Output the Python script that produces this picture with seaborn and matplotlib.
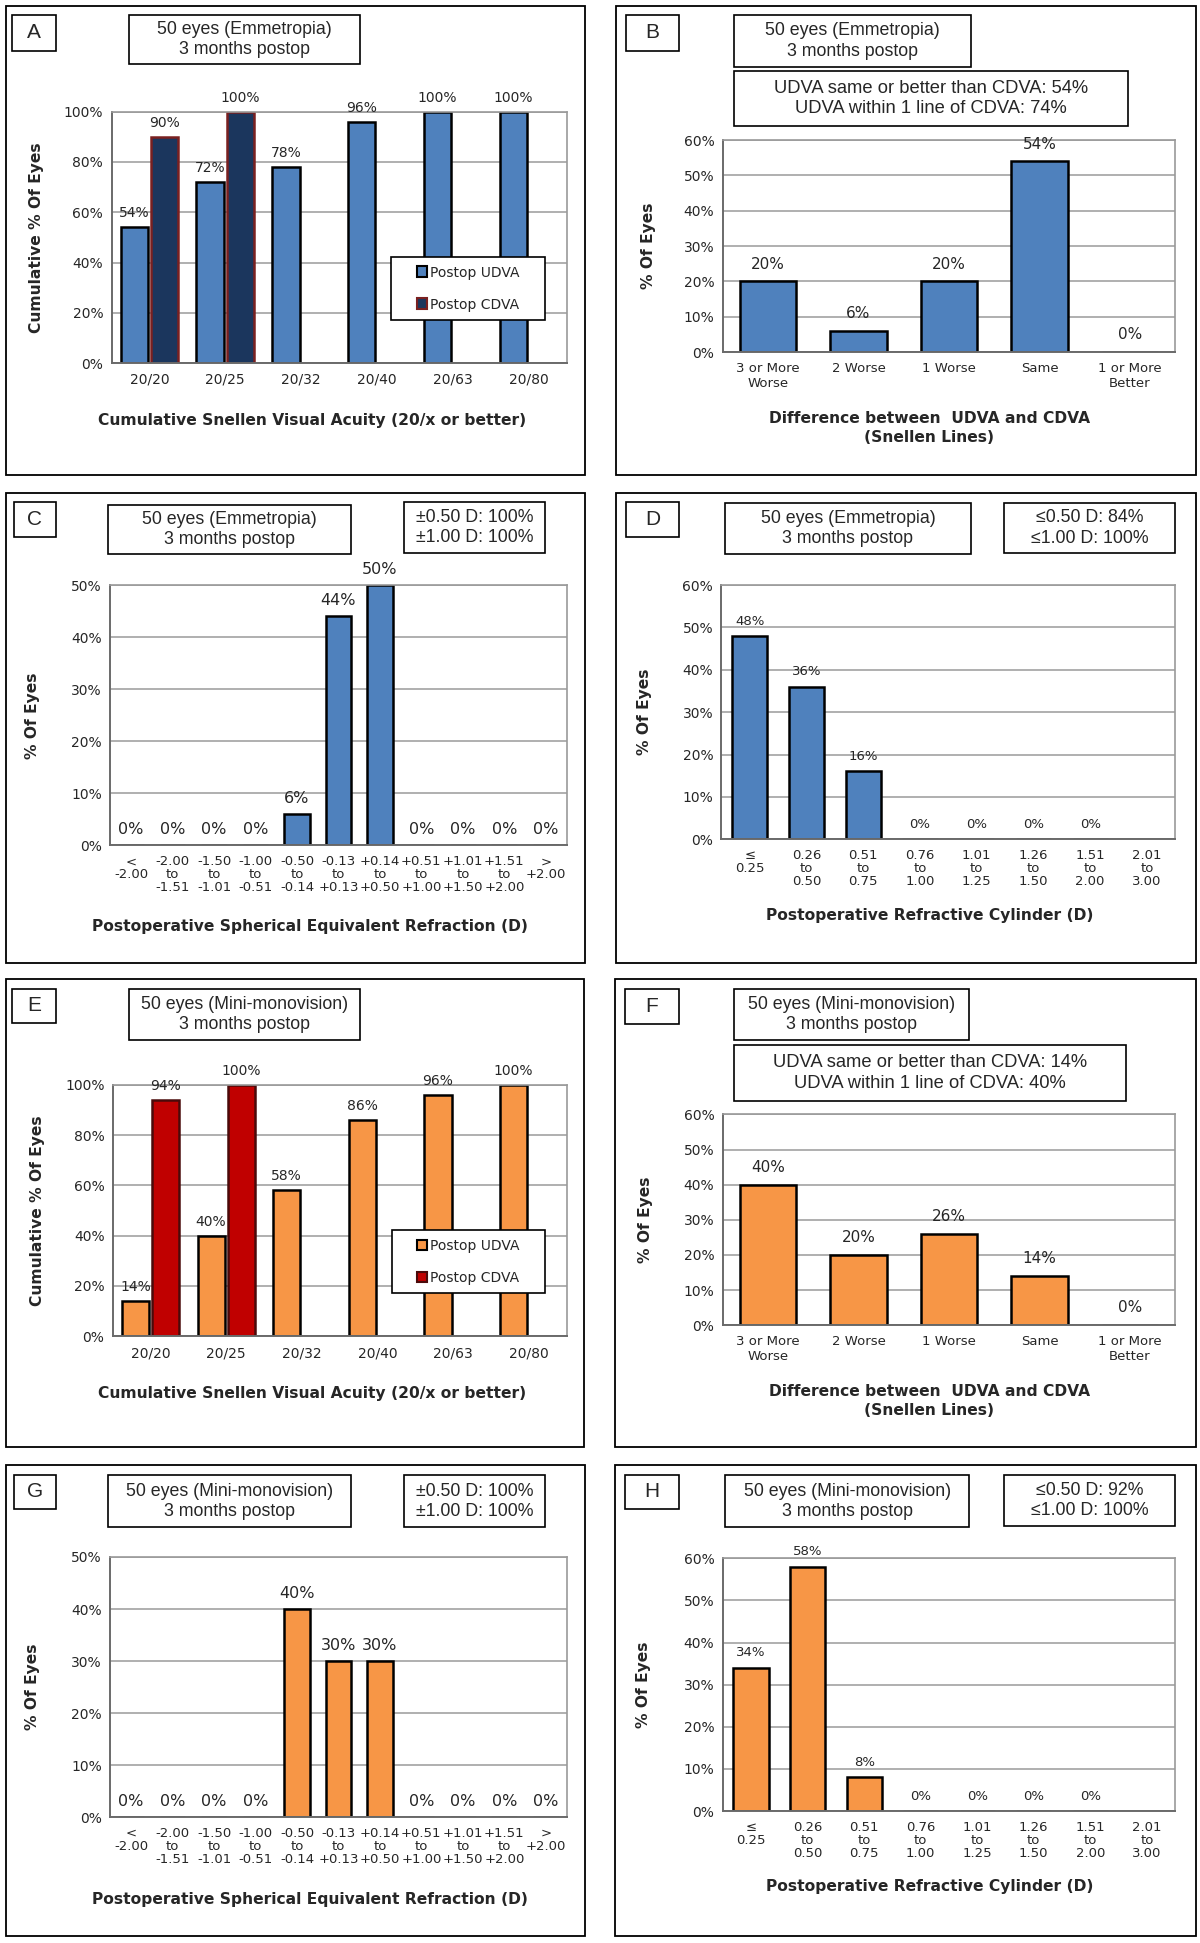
import numpy as np
import pandas as pd
import seaborn as sns
from matplotlib import pyplot as plt
from matplotlib.patches import Patch, Rectangle

# ---- data ----
acuity_labels = ['20/20', '20/25', '20/32', '20/40', '20/63', '20/80']
emm_udva = [54, 72, 78, 96, 100, 100]
emm_cdva = [90, 100]
mono_udva = [14, 40, 58, 86, 96, 100]
mono_cdva = [94, 100]

diff_labels = ['3 or More\nWorse', '2 Worse', '1 Worse', 'Same', '1 or More\nBetter']
emm_diff = [20, 6, 20, 54, 0]
mono_diff = [40, 20, 26, 14, 0]

se_labels = ['<\n-2.00', '-2.00\nto\n-1.51', '-1.50\nto\n-1.01', '-1.00\nto\n-0.51',
             '-0.50\nto\n-0.14', '-0.13\nto\n+0.13', '+0.14\nto\n+0.50', '+0.51\nto\n+1.00',
             '+1.01\nto\n+1.50', '+1.51\nto\n+2.00', '>\n+2.00']
emm_se = [0, 0, 0, 0, 6, 44, 50, 0, 0, 0, 0]
mono_se = [0, 0, 0, 0, 40, 30, 30, 0, 0, 0, 0]

cyl_labels = ['≤\n0.25', '0.26\nto\n0.50', '0.51\nto\n0.75', '0.76\nto\n1.00',
              '1.01\nto\n1.25', '1.26\nto\n1.50', '1.51\nto\n2.00', '2.01\nto\n3.00']
emm_cyl = [48, 36, 16, 0, 0, 0, 0]   # last class has no value
mono_cyl = [34, 58, 8, 0, 0, 0, 0]

emm_title = '50 eyes (Emmetropia)\n3 months postop'
mono_title = '50 eyes (Mini-monovision)\n3 months postop'
emm_diff_note = 'UDVA same or better than CDVA: 54%\nUDVA within 1 line of CDVA: 74%'
mono_diff_note = 'UDVA same or better than CDVA: 14%\nUDVA within 1 line of CDVA: 40%'
se_note = '±0.50 D: 100%\n±1.00 D: 100%'
emm_cyl_note = '≤0.50 D: 84%\n≤1.00 D: 100%'
mono_cyl_note = '≤0.50 D: 92%\n≤1.00 D: 100%'

BLUE = '#4F81BD'
NAVY = '#1B365D'
ORANGE = '#F79646'
RED = '#C00000'

sns.set_style('white')
plt.rcParams['font.family'] = ['DejaVu Sans']
BOX_FONT = ['Liberation Sans', 'DejaVu Sans']

fig = plt.figure(figsize=(12, 19.43), dpi=100)
REF_W, REF_H = 968.0, 1567.4  # reference measured at this scale


def ref_rect(x0, y0, x1, y1):
    return [x0 / REF_W, 1 - y1 / REF_H, (x1 - x0) / REF_W, (y1 - y0) / REF_H]


def frame(x0, y0, x1, y1, lw=1.3):
    l, b, w, h = ref_rect(x0, y0, x1, y1)
    fig.add_artist(Rectangle((l, b), w, h, transform=fig.transFigure,
                             fill=False, ec='black', lw=lw))


def text_box(x0, y0, x1, y1, text, size=12.8):
    frame(x0, y0, x1, y1, lw=1.2)
    l, b, w, h = ref_rect(x0, y0, x1, y1)
    fig.text(l + w / 2, b + h / 2, text, ha='center', va='center', fontsize=size,
             family=BOX_FONT, linespacing=1.25)


def style_axes(ax, ymax, ystep, ytick_size, xtick_size, n, xspacing=1.0):
    ax.set_ylim(0, ymax)
    ax.set_yticks(np.arange(0, ymax + 1, ystep))
    ax.set_yticklabels([f'{v}%' for v in range(0, ymax + 1, ystep)], fontsize=ytick_size)
    ax.set_xticks(np.arange(-0.5, n, 1.0), minor=True)
    ax.tick_params(axis='x', which='major', length=0, pad=7, labelsize=xtick_size)
    ax.tick_params(axis='x', which='minor', length=5, color='#707070', width=1.2, direction='out')
    ax.tick_params(axis='y', length=4, color='#707070', width=1.2, direction='out', pad=2)
    ax.set_axisbelow(True)
    ax.yaxis.grid(True, color='#9a9a9a', lw=1.1)
    ax.xaxis.grid(False)
    for side in ['top', 'right']:
        ax.spines[side].set_color('#9a9a9a')
        ax.spines[side].set_linewidth(1.2)
    for side in ['left', 'bottom']:
        ax.spines[side].set_color('#6a6a6a')
        ax.spines[side].set_linewidth(1.4)
    for lab in ax.get_xticklabels():
        lab.set_linespacing(xspacing)


def set_labels(ax, xlabel, ylabel, xcen, xpos, ypos, size=11.2):
    ax.set_xlabel(xlabel, fontsize=size, fontweight='bold', linespacing=1.35)
    ax.set_ylabel(ylabel, fontsize=size, fontweight='bold')
    ax.xaxis.label.set_va('center')
    ax.yaxis.label.set_va('center')
    ax.xaxis.set_label_coords(xcen, xpos)
    ax.yaxis.set_label_coords(ypos, 0.5)


def acuity_panel(rect, udva, cdva, udva_color, cdva_color, cdva_edge):
    ax = fig.add_axes(ref_rect(*rect))
    df = pd.DataFrame({
        'acuity': acuity_labels + acuity_labels[:len(cdva)],
        'pct': udva + cdva,
        'measure': ['Postop UDVA'] * len(udva) + ['Postop CDVA'] * len(cdva),
    })
    sns.barplot(data=df, x='acuity', y='pct', hue='measure', order=acuity_labels,
                hue_order=['Postop UDVA', 'Postop CDVA'], palette=[udva_color, cdva_color],
                width=0.8, gap=0.1, errorbar=None, saturation=1, edgecolor='black',
                linewidth=1.8, legend=False, ax=ax)
    for bar in ax.containers[1]:
        bar.set_edgecolor(cdva_edge)
    for cont in ax.containers:
        ax.bar_label(cont, fmt='{:.0f}%', padding=5, fontsize=10, annotation_clip=False)
    style_axes(ax, 100, 20, 10, 10, len(acuity_labels))
    set_labels(ax, 'Cumulative Snellen Visual Acuity (20/x or better)',
               'Cumulative % Of Eyes', 0.44, -0.227, -0.165)
    # legend in a white box over the bars
    ax.add_patch(Rectangle((0.615, 0.171), 0.337, 0.251, transform=ax.transAxes,
                           fc='white', ec='black', lw=1.2, zorder=5))
    handles = [Patch(fc=udva_color, ec='black', lw=1.5), Patch(fc=cdva_color, ec=cdva_edge, lw=1.5)]
    leg = ax.legend(handles, ['Postop UDVA', 'Postop CDVA'], loc='center',
                    bbox_to_anchor=(0.615, 0.171, 0.337, 0.251), frameon=False,
                    fontsize=10, handlelength=0.7, handleheight=0.8, handletextpad=0.2,
                    labelspacing=1.3)
    leg.set_zorder(6)
    return ax


def simple_panel(rect, labels, values, color, ymax, label_size, ytick_size, xtick_size,
                 xlabel, xcen, xpos, ypos, pad=5, xspacing=1.0):
    ax = fig.add_axes(ref_rect(*rect))
    df = pd.DataFrame({'cat': labels[:len(values)], 'pct': values})
    sns.barplot(data=df, x='cat', y='pct', order=labels, color=color, width=0.62,
                errorbar=None, saturation=1, edgecolor='black', linewidth=1.8, ax=ax)
    ax.bar_label(ax.containers[0], fmt='{:.0f}%', padding=pad, fontsize=label_size,
                 annotation_clip=False)
    style_axes(ax, ymax, 10, ytick_size, xtick_size, len(labels), xspacing)
    set_labels(ax, xlabel, '% Of Eyes', xcen, xpos, ypos)
    return ax


diff_xlabel = 'Difference between  UDVA and CDVA\n(Snellen Lines)'
se_xlabel = 'Postoperative Spherical Equivalent Refraction (D)'
cyl_xlabel = 'Postoperative Refractive Cylinder (D)'

# panel frames
for r in [(5, 5, 472, 383), (497, 5, 965, 383), (5, 398, 472, 777), (497, 398, 965, 777),
          (5, 790, 471, 1167), (496, 790, 965, 1167), (5, 1182, 472, 1562), (496, 1182, 965, 1562)]:
    frame(*r)

# A
acuity_panel((90, 90, 457, 293), emm_udva, emm_cdva, BLUE, NAVY, '#7a2020')
text_box(10, 12, 45, 41, 'A', 15)
text_box(104, 12, 290, 52, emm_title)

# B
simple_panel((583, 113, 948, 284), diff_labels, emm_diff, BLUE, 60, 11, 10, 9.5,
             diff_xlabel, 0.457, -0.36, -0.165, pad=7, xspacing=1.25)
text_box(505, 12, 548, 41, 'B', 15)
text_box(592, 12, 783, 54, emm_title)
text_box(592, 57, 910, 102, emm_diff_note, 13.2)

# C
simple_panel((89, 472, 457, 682), se_labels, emm_se, BLUE, 50, 11.5, 10, 9.5,
             se_xlabel, 0.437, -0.31, -0.17, pad=6)
text_box(11, 405, 45, 433, 'C', 15)
text_box(87, 407, 283, 447, emm_title)
text_box(326, 405, 440, 446, se_note)

# D
simple_panel((582, 472, 948, 677), cyl_labels, emm_cyl, BLUE, 60, 9.5, 10, 9.5,
             cyl_xlabel, 0.458, -0.30, -0.17, pad=6)
text_box(505, 405, 548, 433, 'D', 15)
text_box(585, 406, 783, 447, emm_title)
text_box(810, 406, 948, 446, emm_cyl_note)

# E
acuity_panel((91, 875, 457, 1078), mono_udva, mono_cdva, ORANGE, RED, '#4a0a0a')
text_box(10, 798, 45, 825, 'E', 15)
text_box(104, 798, 290, 839, mono_title)

# F
simple_panel((583, 899, 948, 1069), diff_labels, mono_diff, ORANGE, 60, 11, 10, 9.5,
             diff_xlabel, 0.457, -0.36, -0.17, pad=7, xspacing=1.25)
text_box(504, 798, 548, 826, 'F', 15)
text_box(592, 798, 782, 839, mono_title)
text_box(592, 843, 908, 888, mono_diff_note, 13.2)

# G
simple_panel((89, 1256, 457, 1466), se_labels, mono_se, ORANGE, 50, 11.5, 10, 9.5,
             se_xlabel, 0.437, -0.315, -0.17, pad=6)
text_box(11, 1190, 45, 1217, 'G', 15)
text_box(87, 1190, 283, 1232, mono_title)
text_box(326, 1190, 440, 1232, se_note)

# H
simple_panel((583, 1257, 948, 1461), cyl_labels, mono_cyl, ORANGE, 60, 9.5, 10, 9.5,
             cyl_xlabel, 0.458, -0.30, -0.175, pad=6)
text_box(504, 1190, 548, 1217, 'H', 15)
text_box(585, 1190, 782, 1232, mono_title)
text_box(810, 1190, 948, 1231, mono_cyl_note)

fig.savefig('out.png', dpi=100, facecolor='white')
